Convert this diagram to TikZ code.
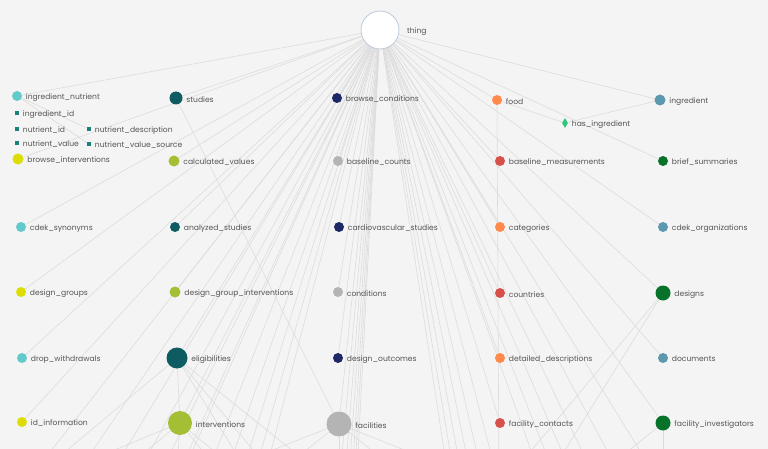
\documentclass[tikz,border=0pt]{standalone}
\usepackage{fontspec}
\setmainfont{Poppins}
\usetikzlibrary{backgrounds,shapes.geometric}

\definecolor{bgcol}{HTML}{F4F4F4}
\definecolor{edgecol}{HTML}{DCDCDC}
\definecolor{txtcol}{HTML}{555555}
\definecolor{ringcol}{HTML}{BCCAD9}
\definecolor{cAqua}{HTML}{62CACA}
\definecolor{cPetrol}{HTML}{0E5B61}
\definecolor{cTeal}{HTML}{1C807C}
\definecolor{cNavy}{HTML}{1C2966}
\definecolor{cCoral}{HTML}{FF8A4C}
\definecolor{cSteel}{HTML}{5C98B0}
\definecolor{cLemon}{HTML}{DDDD05}
\definecolor{cLime}{HTML}{A5BF34}
\definecolor{cSilver}{HTML}{B4B4B4}
\definecolor{cBrick}{HTML}{D9504B}
\definecolor{cForest}{HTML}{07722A}
\definecolor{cMint}{HTML}{2DC77A}

\begin{document}
\begin{tikzpicture}[
x=1pt, y=-1pt,
font=\fontsize{7.6}{9}\selectfont,
label distance=2,
every label/.style={text=txtcol,inner sep=1.5,yshift=-1.2},
cls/.style={circle,fill=#1,inner sep=0,minimum size=10},
prop/.style={rectangle,fill=cTeal,inner sep=0,minimum size=4},
objprop/.style={diamond,fill=cMint,inner sep=0,minimum width=6,minimum height=10},
line/.style={draw=edgecol,line width=0.6}
]
\useasboundingbox (0,0) rectangle (768,449);

\node[circle,draw=ringcol,line width=0.8,fill=white,minimum size=38,label={[label distance=6]right:thing}] (thing) at (380,30) {};

% first row and the data properties
\node[cls=cAqua] (ingrnut) at (17,96) [label=right:ingredient\_nutrient] {};
\node[prop] (ingrid) at (17,113) [label=right:ingredient\_id] {};
\node[prop] (nutid) at (17,129) [label=right:nutrient\_id] {};
\node[prop] (nutval) at (17,143) [label=right:nutrient\_value] {};
\node[prop] (nutdesc) at (89,129) [label=right:nutrient\_description] {};
\node[prop] (nutsrc) at (89,144) [label=right:nutrient\_value\_source] {};
\node[cls=cLemon,minimum size=11] (browseint) at (18,159) [label=right:browse\_interventions] {};
\node[cls=cPetrol,minimum size=13] (studies) at (176,98) [label=right:studies] {};
\node[cls=cNavy] (browsecond) at (337,98) [label=right:browse\_conditions] {};
\node[cls=cCoral] (food) at (497,100) [label=right:food] {};
\node[cls=cSteel,minimum size=11] (ingredient) at (660,100) [label=right:ingredient] {};
\node[objprop] (hasingr) at (565,123) [label=right:has\_ingredient] {};

% second row
\node[cls=cLime,minimum size=11] (calcval) at (174,161) [label=right:calculated\_values] {};
\node[cls=cSilver] (basecount) at (338,161) [label=right:baseline\_counts] {};
\node[cls=cBrick] (basemeas) at (500,161) [label=right:baseline\_measurements] {};
\node[cls=cForest] (briefsum) at (663,161) [label=right:brief\_summaries] {};

% third row
\node[cls=cAqua] (cdeksyn) at (21,227) [label=right:cdek\_synonyms] {};
\node[cls=cPetrol] (analyzed) at (175,227) [label=right:analyzed\_studies] {};
\node[cls=cNavy] (cardio) at (339,227) [label=right:cardiovascular\_studies] {};
\node[cls=cCoral] (categories) at (500,227) [label=right:categories] {};
\node[cls=cSteel] (cdekorg) at (663,227) [label=right:cdek\_organizations] {};

% fourth row
\node[cls=cLemon] (desgroups) at (21,292) [label=right:design\_groups] {};
\node[cls=cLime,minimum size=11] (desgroupint) at (175,292) [label=right:design\_group\_interventions] {};
\node[cls=cSilver] (conditions) at (338,292) [label=right:conditions] {};
\node[cls=cBrick] (countries) at (500,293) [label=right:countries] {};
\node[cls=cForest,minimum size=15] (designs) at (663,293) [label=right:designs] {};

% fifth row
\node[cls=cAqua] (dropwd) at (22,358) [label=right:drop\_withdrawals] {};
\node[cls=cPetrol,minimum size=21] (eligib) at (177,358) [label=right:eligibilities] {};
\node[cls=cNavy] (desout) at (338,358) [label=right:design\_outcomes] {};
\node[cls=cCoral] (detdesc) at (500,358) [label=right:detailed\_descriptions] {};
\node[cls=cSteel] (documents) at (663,358) [label=right:documents] {};

% sixth row
\node[cls=cLemon] (idinfo) at (22,422) [label=right:id\_information] {};
\node[cls=cLime,minimum size=24] (interv) at (180,423) [label=right:interventions] {};
\node[cls=cSilver,minimum size=25] (facilities) at (339,424) [label=right:facilities] {};
\node[cls=cBrick] (faccont) at (500,423) [label=right:facility\_contacts] {};
\node[cls=cForest,minimum size=15] (facinv) at (663,423) [label=right:facility\_investigators] {};

% rows below the visible part
\coordinate (r7a) at (22,488); \coordinate (r7b) at (176,488); \coordinate (r7c) at (339,488); \coordinate (r7d) at (500,488); \coordinate (r7e) at (663,488);
\coordinate (r8a) at (22,554); \coordinate (r8b) at (176,554); \coordinate (r8c) at (339,554); \coordinate (r8d) at (500,554); \coordinate (r8e) at (663,554);
\coordinate (r9a) at (22,620); \coordinate (r9b) at (176,620); \coordinate (r9c) at (339,620); \coordinate (r9d) at (500,620); \coordinate (r9e) at (663,620);
\coordinate (r10a) at (22,686); \coordinate (r10b) at (176,686); \coordinate (r10c) at (339,686); \coordinate (r10d) at (500,686); \coordinate (r10e) at (663,686);
\coordinate (r11a) at (22,752); \coordinate (r11b) at (176,752); \coordinate (r11c) at (339,752); \coordinate (r11d) at (500,752); \coordinate (r11e) at (663,752);
\coordinate (r12a) at (22,818); \coordinate (r12b) at (176,818); \coordinate (r12c) at (339,818); \coordinate (r12d) at (500,818); \coordinate (r12e) at (663,818);

\begin{scope}[on background layer]
\fill[bgcol] (0,0) rectangle (768,449);
\clip (0,0) rectangle (768,449);

% subclass edges
\path[line] (thing) -- (ingrnut);
\path[line] (thing) -- (browseint);
\path[line] (thing) -- (studies);
\path[line] (thing) -- (browsecond);
\path[line] (thing) -- (food);
\path[line] (thing) -- (ingredient);
\path[line] (thing) -- (calcval);
\path[line] (thing) -- (basecount);
\path[line] (thing) -- (basemeas);
\path[line] (thing) -- (briefsum);
\path[line] (thing) -- (cdeksyn);
\path[line] (thing) -- (analyzed);
\path[line] (thing) -- (cardio);
\path[line] (thing) -- (categories);
\path[line] (thing) -- (cdekorg);
\path[line] (thing) -- (desgroups);
\path[line] (thing) -- (desgroupint);
\path[line] (thing) -- (conditions);
\path[line] (thing) -- (countries);
\path[line] (thing) -- (designs);
\path[line] (thing) -- (dropwd);
\path[line] (thing) -- (eligib);
\path[line] (thing) -- (desout);
\path[line] (thing) -- (detdesc);
\path[line] (thing) -- (documents);
\path[line] (thing) -- (idinfo);
\path[line] (thing) -- (interv);
\path[line] (thing) -- (facilities);
\path[line] (thing) -- (faccont);
\path[line] (thing) -- (facinv);
\path[line] (thing) -- (r7a) (thing) -- (r7b) (thing) -- (r7c) (thing) -- (r7d) (thing) -- (r7e);
\path[line] (thing) -- (r8a) (thing) -- (r8b) (thing) -- (r8c) (thing) -- (r8d) (thing) -- (r8e);
\path[line] (thing) -- (r9a) (thing) -- (r9b) (thing) -- (r9c) (thing) -- (r9d) (thing) -- (r9e);
\path[line] (thing) -- (r10a) (thing) -- (r10b) (thing) -- (r10c) (thing) -- (r10d) (thing) -- (r10e);
\path[line] (thing) -- (r11a) (thing) -- (r11b) (thing) -- (r11c) (thing) -- (r11d) (thing) -- (r11e);
\path[line] (thing) -- (r12a) (thing) -- (r12b) (thing) -- (r12c) (thing) -- (r12d) (thing) -- (r12e);

% properties
\path[line] (ingrnut) -- (nutdesc);
\path[line] (ingrnut) -- (nutsrc);
\path[line] (food) -- (hasingr);
\path[line] (hasingr) -- (ingredient);
\path[line] (food) -- (r10d);
\path[line] (studies) -- (facilities);
\path[line] (designs) -- (r7d);
\path[line] (designs) -- (r8d);
\path[line] (facinv) -- (r7e);
\path[line] (facinv) -- (r8d);
\path[line] (eligib) -- (interv);
\path[line] (eligib) -- (r7a);
\path[line] (eligib) -- (r7c);
\path[line] (eligib) -- (r8c);
\path[line] (eligib) -- (r9c);
\path[line] (interv) -- (r7a);
\path[line] (interv) -- (r7b);
\path[line] (interv) -- (r8a);
\path[line] (interv) -- (r8c);
\path[line] (interv) -- (r9c);
\path[line] (facilities) -- (r7b);
\path[line] (facilities) -- (r7c);
\path[line] (facilities) -- (r8b);
\path[line] (facilities) -- (r7d);
\path[line] (facilities) -- (r8d);
\end{scope}

\end{tikzpicture}
\end{document}
